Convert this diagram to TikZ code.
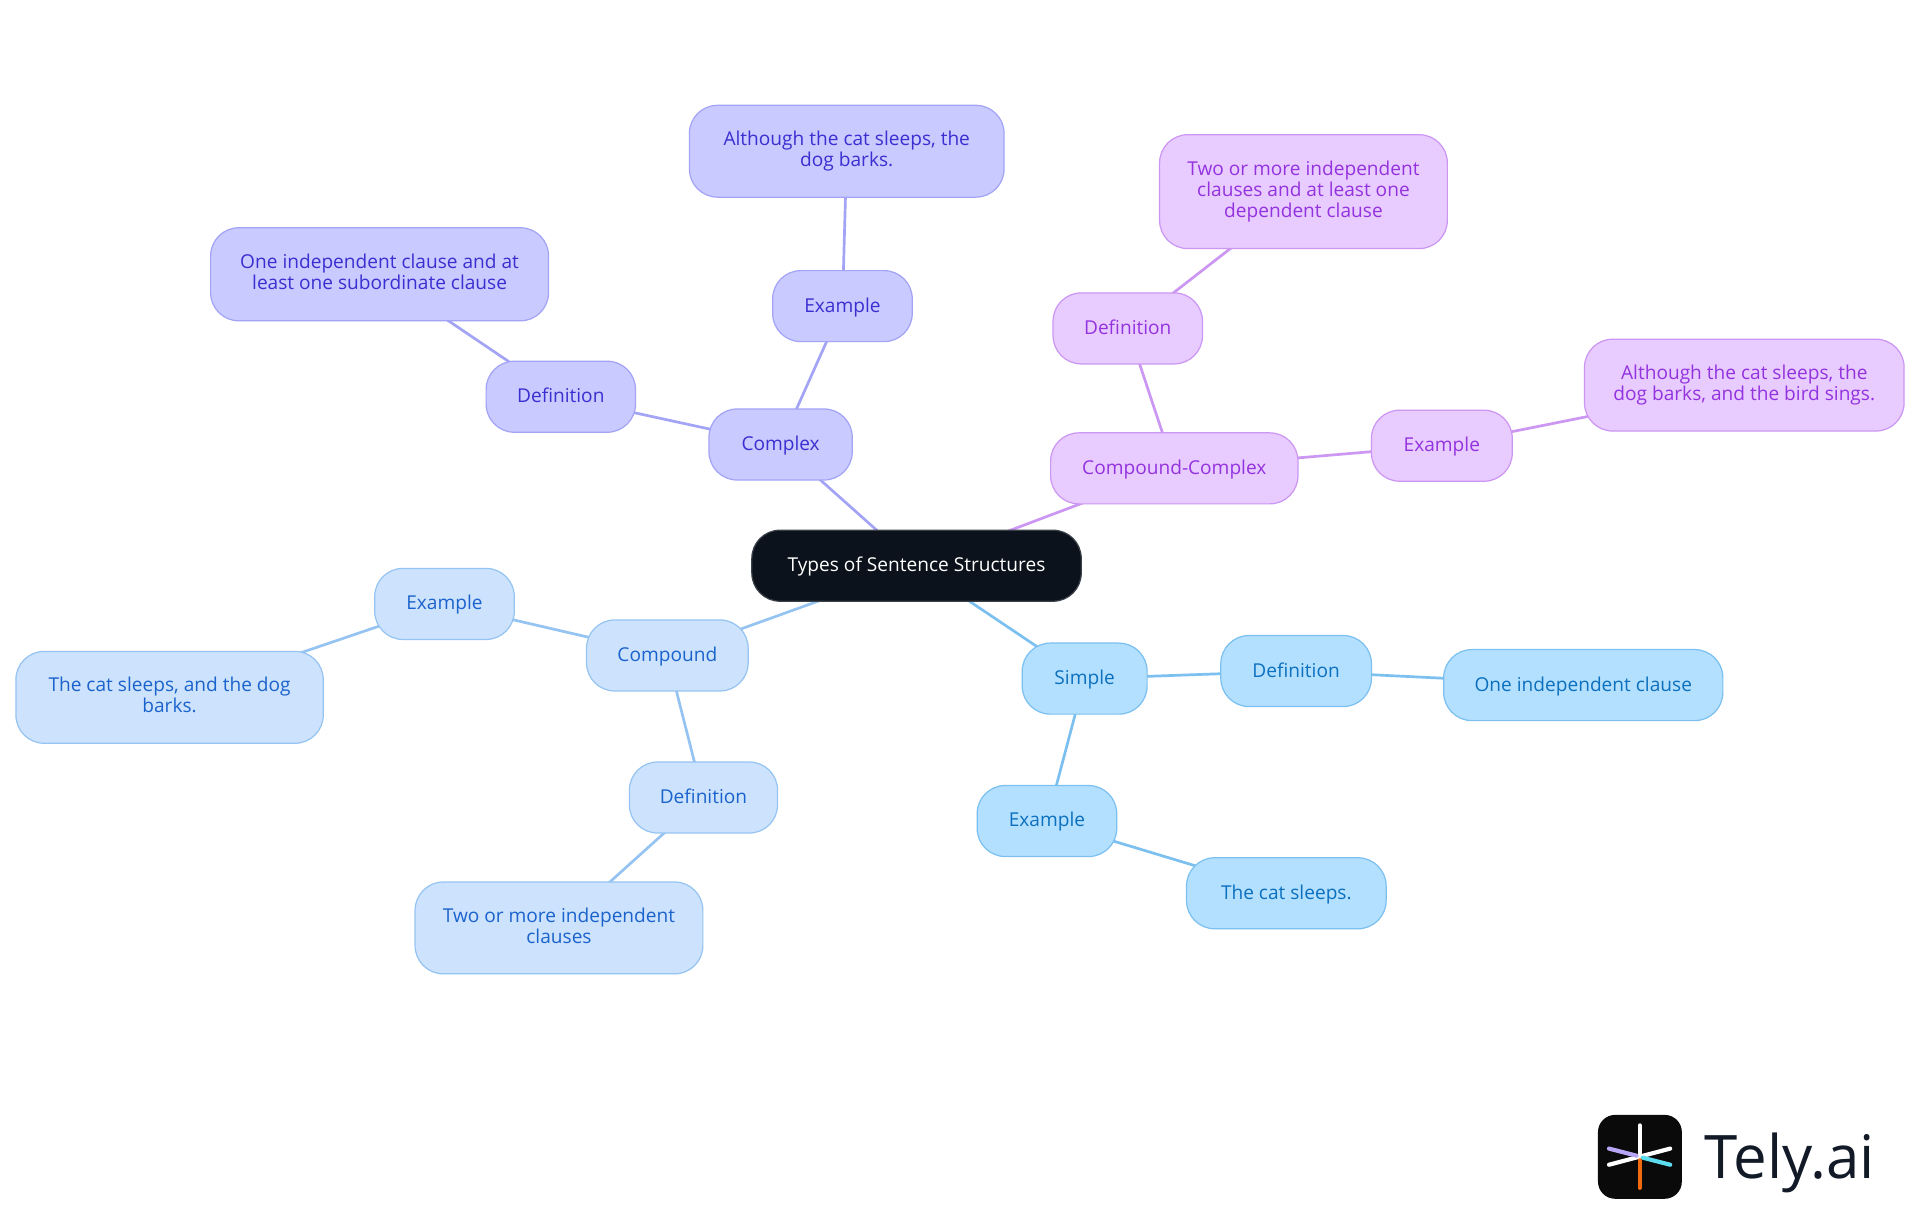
\documentclass[tikz,border=0pt]{standalone}
\usepackage{fontspec}
\setmainfont{Open Sans}
\usetikzlibrary{backgrounds}
\definecolor{rootfill}{HTML}{0B121B}
\definecolor{rootline}{HTML}{3A4048}
\definecolor{cxfill}{HTML}{C9CAFF}
\definecolor{cxline}{HTML}{A3A4F5}
\definecolor{cxtext}{HTML}{3A2FD0}
\definecolor{ccfill}{HTML}{E8CBFF}
\definecolor{ccline}{HTML}{CC97F2}
\definecolor{cctext}{HTML}{9333DE}
\definecolor{cpfill}{HTML}{CDE3FD}
\definecolor{cpline}{HTML}{96C4F2}
\definecolor{cptext}{HTML}{1B63CC}
\definecolor{smfill}{HTML}{B4E0FF}
\definecolor{smline}{HTML}{7CC0F0}
\definecolor{smtext}{HTML}{0B70BE}
\definecolor{logoblack}{HTML}{0A0A0A}
\definecolor{logotext}{HTML}{111A26}
\definecolor{logopurple}{HTML}{B9A5F5}
\definecolor{logocyan}{HTML}{5CDCEF}
\definecolor{logoorange}{HTML}{F26A0F}
\newcommand{\tstrut}{\rule[-3.6pt]{0pt}{17pt}}
\tikzset{
  mind/.style={rectangle,rounded corners=23pt,inner sep=0pt,line width=1pt,align=center,
    font=\fontsize{15.6}{17}\selectfont,
    execute at begin node=\tstrut, execute at end node=\tstrut},
  rootbox/.style={mind,fill=rootfill,draw=rootline,text=white},
  cxbox/.style={mind,fill=cxfill,draw=cxline,text=cxtext},
  ccbox/.style={mind,fill=ccfill,draw=ccline,text=cctext},
  cpbox/.style={mind,fill=cpfill,draw=cpline,text=cptext},
  smbox/.style={mind,fill=smfill,draw=smline,text=smtext},
  link/.style={line width=2.2pt},
  spoke/.style={line width=3.4pt,line cap=round},
  sz/.style 2 args={minimum width=#1pt,minimum height=#2pt},
}
\begin{document}
\begin{tikzpicture}[x=1pt,y=-1pt]
\useasboundingbox (0,0) rectangle (1568,992.2);
\node[rootbox,sz={269}{58}] (root) at (748.5,462) {Types of Sentence Structures};

\node[cxbox,sz={117}{58}] (cx) at (637.5,363) {Complex};
\node[cxbox,sz={114}{58}] (cxex) at (688,250) {Example};
\node[cxbox,sz={257}{75}] (cxext) at (691.5,123.5) {Although the cat sleeps, the\\dog barks.};
\node[cxbox,sz={122}{58}] (cxdef) at (458,324) {Definition};
\node[cxbox,sz={276}{76}] (cxdeft) at (310,224) {One independent clause and at\\least one subordinate clause};

\node[ccbox,sz={202}{58}] (cc) at (959,382.5) {Compound-Complex};
\node[ccbox,sz={122}{58}] (ccdef) at (921,268.2) {Definition};
\node[ccbox,sz={235}{93}] (ccdeft) at (1064.5,156.5) {Two or more independent\\clauses and at least one\\dependent clause};
\node[ccbox,sz={115}{58}] (ccex) at (1177.5,364) {Example};
\node[ccbox,sz={261}{75}] (ccext) at (1424.5,314.5) {Although the cat sleeps, the\\dog barks, and the bird sings.};

\node[cpbox,sz={132}{58}] (cp) at (545,535.3) {Compound};
\node[cpbox,sz={114}{58}] (cpex) at (363,493.2) {Example};
\node[cpbox,sz={251}{75}] (cpext) at (138.5,569.5) {The cat sleeps, and the dog\\barks.};
\node[cpbox,sz={121}{58}] (cpdef) at (574.5,651.3) {Definition};
\node[cpbox,sz={235}{75}] (cpdeft) at (456.5,757.8) {Two or more independent\\clauses};

\node[smbox,sz={102}{58}] (sm) at (885.8,554.2) {Simple};
\node[smbox,sz={123}{58}] (smdef) at (1058.5,548) {Definition};
\node[smbox,sz={228}{58}] (smdeft) at (1293,559.5) {One independent clause};
\node[smbox,sz={114}{58}] (smex) at (855,670.5) {Example};
\node[smbox,sz={163}{58}] (smext) at (1050.5,729.5) {The cat sleeps.};

\begin{scope}[on background layer]
\fill[white] (0,0) rectangle (1568,992.2);
\draw[link,cxline] (root.center)--(cx.center) (cx.center)--(cxex.center) (cxex.center)--(cxext.center) (cx.center)--(cxdef.center) (cxdef.center)--(cxdeft.center);
\draw[link,ccline] (root.center)--(cc.center) (cc.center)--(ccdef.center) (ccdef.center)--(ccdeft.center) (cc.center)--(ccex.center) (ccex.center)--(ccext.center);
\draw[link,cpline] (root.center)--(cp.center) (cp.center)--(cpex.center) (cpex.center)--(cpext.center) (cp.center)--(cpdef.center) (cpdef.center)--(cpdeft.center);
\draw[link,smline] (root.center)--(sm.center) (sm.center)--(smdef.center) (smdef.center)--(smdeft.center) (sm.center)--(smex.center) (smex.center)--(smext.center);
\end{scope}

% logo
\fill[logoblack,rounded corners=14pt] (1305,910.5) rectangle (1373.5,979);
\coordinate (hub) at (1339,944.6);
\draw[spoke,white] (hub)--+(0,-25.5);
\draw[spoke,white] (hub)--+(-25,6.6);
\draw[spoke,white] (hub)--+(25,-6.6);
\draw[spoke,logopurple] (hub)++(-2.5,-0.8)--+(-22.5,-5.8);
\draw[spoke,logocyan] (hub)++(2.5,0.8)--+(22.5,5.8);
\draw[spoke,logoorange] (hub)++(0,3)--+(0,22.5);
\node[inner sep=0pt,anchor=base west,text=logotext,font=\fontsize{49}{49}\selectfont] (brand) at (1392,962.5) {Tely.ai};
\end{tikzpicture}
\end{document}
